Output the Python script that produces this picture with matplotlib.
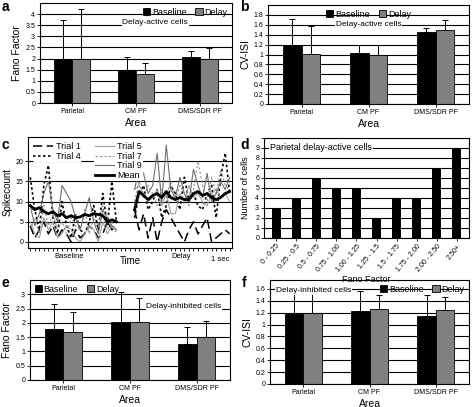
import numpy as np
import matplotlib.pyplot as plt

plt.rcParams['font.family'] = ['Liberation Sans', 'DejaVu Sans']

areas = ['Parietal', 'CM PF', 'DMS/SDR PF']

# panel a: fano factor, delay-active
a_base = [2.0, 1.5, 2.05]
a_base_err = [1.75, 0.58, 0.3]
a_delay = [2.0, 1.3, 2.0]
a_delay_err = [2.25, 0.5, 0.48]

# panel b: CV-ISI, delay-active
b_base = [1.2, 1.04, 1.46]
b_base_err = [0.52, 0.15, 0.08]
b_delay = [1.02, 0.99, 1.49]
b_delay_err = [0.55, 0.2, 0.21]

# panel d: histogram of parietal fano factors
d_bins = ['0 - 0.25', '0.25 - 0.5', '0.5 - 0.75', '0.75 - 1.00', '1.00 - 1.25', '1.25 - 1.5',
          '1.5 - 1.75', '1.75 - 2.00', '2.00 - 2.50', '2.50+']
d_counts = [3, 4, 6, 5, 5, 2, 4, 4, 7, 9]

# panel e: fano factor, delay-inhibited
e_base = [1.77, 2.03, 1.25]
e_base_err = [0.88, 1.05, 0.62]
e_delay = [1.67, 2.03, 1.5]
e_delay_err = [0.72, 0.85, 0.55]

# panel f: CV-ISI, delay-inhibited
f_base = [1.18, 1.22, 1.15]
f_base_err = [0.4, 0.35, 0.34]
f_delay = [1.2, 1.26, 1.24]
f_delay_err = [0.37, 0.23, 0.22]

# panel c: spike counts per bin (baseline bins, gap, delay bins)
nan = np.nan
trial1 = [4, 1, 3, 5, 2, 4, 1, 3, 2, 0, 3, 1, 2, 4, 3, 1, 2, 5, 3, 4, nan, nan, nan,
          8, 3, 7, 1, 6, 0, 5, 8, 6, 4, 2, 0, 3, 5, 2, 4, 6, 0, 1, 2, 3, 2]
trial4 = [16, 8, 3, 14, 19, 6, 2, 10, 4, 1, 7, 3, 2, 5, 9, 3, 12, 4, 15, 5, nan, nan, nan,
          6, 12, 14, 8, 10, 13, 6, 9, 14, 12, 8, 16, 10, 12, 9, 8, 12, 14, 6, 16, 22, 12]
trial5 = [5, 2, 1, 6, 3, 5, 1, 2, 4, 3, 1, 0, 2, 4, 3, 0, 5, 2, 4, 3, nan, nan, nan,
          13, 14, 12, 10, 11, 13, 9, 12, 7, 7, 12, 10, 14, 11, 12, 10, 9, 12, 13, 11, 12, 10]
trial7 = [3, 6, 2, 9, 4, 7, 3, 5, 2, 6, 4, 3, 8, 2, 6, 4, 9, 3, 5, 2, nan, nan, nan,
          10, 15, 11, 14, 12, 9, 13, 11, 15, 10, 14, 12, 9, 13, 20, 14, 10, 16, 12, 18, 14, 13]
trial9 = [9, 4, 7, 12, 15, 8, 5, 14, 12, 10, 6, 3, 7, 11, 5, 2, 8, 6, 4, 3, nan, nan, nan,
          13, 18, 17, 12, 14, 22, 10, 24, 13, 11, 16, 12, 10, 18, 14, 11, 17, 10, 12, 15, 13, 16]
mean = [9, 8, 8.5, 7.5, 7, 7.5, 6.5, 7, 6, 6.5, 6, 6.2, 6.8, 6.5, 7, 6.8, 6.5, 5, 5.5, 5, nan, nan, nan,
        8, 12.5, 11.5, 10.5, 11.5, 12, 11, 12.5, 11, 10.5, 11, 10.5, 10.5, 12, 12.5, 11.5, 12, 11, 10.5, 11, 12, 12.5]

W, H = 474, 407


def fig_px(ax_l, ax_t, ax_r, ax_b):
    return [ax_l / W, 1 - ax_b / H, (ax_r - ax_l) / W, (ax_b - ax_t) / H]


def letter(x, y, s):
    fig.text(x / W, 1 - y / H, s, fontsize=10, fontweight='bold', va='top')


def style(ax):
    ax.set_axisbelow(True)
    ax.yaxis.grid(True, color='black', linewidth=0.8)
    for s in ax.spines.values():
        s.set_linewidth(0.8)
    ax.tick_params(labelsize=5, length=2, width=0.6, pad=1.5)


def bar_panel(rect, base, berr, delay, derr, ylim, ytop, ystep, ylabel, note, note_xy, leg_loc):
    ax = fig.add_axes(fig_px(*rect))
    x = np.arange(len(areas))
    w = 0.28
    ek = dict(elinewidth=0.7, capsize=2, capthick=0.7)
    ax.bar(x - w / 2, base, w, yerr=[np.zeros(3), berr], color='black', edgecolor='black',
           linewidth=0.6, error_kw=ek, label='Baseline')
    ax.bar(x + w / 2, delay, w, yerr=[np.zeros(3), derr], color='#808080', edgecolor='black',
           linewidth=0.6, error_kw=ek, label='Delay')
    ax.set_xlim(-0.5, 2.5)
    ax.set_ylim(*ylim)
    ticks = np.arange(0, ytop + 1e-6, ystep)
    ax.set_yticks(ticks)
    ax.set_yticklabels(['%g' % round(v, 2) for v in ticks])
    ax.set_xticks(x)
    ax.set_xticklabels(areas)
    ax.set_xlabel('Area', fontsize=7.5, labelpad=2)
    ax.set_ylabel(ylabel, fontsize=7.5, labelpad=2)
    style(ax)
    ax.legend(loc=leg_loc, ncol=2, fontsize=6.5, frameon=False, handlelength=0.8,
              handletextpad=0.2, columnspacing=1.0, borderaxespad=0.1)
    ax.text(note_xy[0], note_xy[1], note, transform=ax.transAxes, fontsize=6,
            ha='center', va='center', bbox=dict(facecolor='white', edgecolor='none', pad=0.5))
    return ax


fig = plt.figure(figsize=(W / 100, H / 100), dpi=100)

bar_panel((40, 3, 232, 103), a_base, a_base_err, a_delay, a_delay_err, (0, 4.5), 4.0, 0.5,
          'Fano Factor', 'Delay-active cells', (0.6, 0.8), 'upper right')
letter(2, 0, 'a')
bar_panel((268, 5, 469, 104), b_base, b_base_err, b_delay, b_delay_err, (0, 2.0), 1.8, 0.2,
          'CV-ISI', 'Delay-active cells', (0.5, 0.8), 'upper center')
letter(240, 0, 'b')
bar_panel((30, 280, 230, 380), e_base, e_base_err, e_delay, e_delay_err, (0, 3.5), 3.0, 0.5,
          'Fano Factor', 'Delay-inhibited cells', (0.77, 0.73), 'upper left')
letter(2, 276, 'e')
bar_panel((270, 280, 469, 384), f_base, f_base_err, f_delay, f_delay_err, (0, 1.75), 1.6, 0.2,
          'CV-ISI', 'Delay-inhibited cells', (0.22, 0.9), 'upper right')
letter(242, 276, 'f')

# panel d
ax_d = fig.add_axes(fig_px(264, 138, 469, 238))
xd = np.arange(len(d_bins))
ax_d.bar(xd, d_counts, 0.45, color='black')
ax_d.set_xlim(-0.6, len(d_bins) - 0.4)
ax_d.set_ylim(0, 10)
ax_d.set_yticks(range(0, 11))
ax_d.set_yticklabels([str(v) for v in range(0, 10)] + [''])
ax_d.set_xticks(xd)
ax_d.set_xticklabels(d_bins, rotation=50, ha='right', rotation_mode='anchor', fontsize=4.5)
ax_d.set_xlabel('Fano Factor', fontsize=6.5, labelpad=1)
ax_d.set_ylabel('Number of cells', fontsize=6.5)
style(ax_d)
ax_d.text(0.03, 0.95, 'Parietal delay-active cells', transform=ax_d.transAxes, fontsize=6.5,
          va='top', bbox=dict(facecolor='white', edgecolor='none', pad=0.5))
letter(240, 138, 'd')

# panel c
ax_c = fig.add_axes(fig_px(28, 137, 232, 248))
t = np.arange(len(mean))
l1, = ax_c.plot(t, trial1, color='black', ls=(0, (6, 3)), lw=1.1, label='Trial 1')
l4, = ax_c.plot(t, trial4, color='black', ls=(0, (1.5, 1.5)), lw=1.2, label='Trial 4')
l5, = ax_c.plot(t, trial5, color='#a0a0a0', lw=0.8, label='Trial 5')
l7, = ax_c.plot(t, trial7, color='#909090', ls=(0, (2, 2)), lw=0.8, label='Trial 7')
l9, = ax_c.plot(t, trial9, color='#707070', lw=0.8, label='Trial 9')
lm, = ax_c.plot(t, mean, color='black', lw=2.0, label='Mean')
ax_c.set_ylim(-1.5, 26)
ax_c.set_xlim(-0.5, len(mean) - 0.5)
ax_c.set_yticks([0, 5, 10, 15, 20])
ax_c.set_xticks(t)
ax_c.set_xticklabels([])
style(ax_c)
leg_kw = dict(fontsize=6.5, frameon=True, facecolor='white', edgecolor='none', framealpha=1,
              handlelength=2.2, handletextpad=0.3, labelspacing=0.05, borderpad=0.1)
leg1 = ax_c.legend([l1, l4], ['Trial 1', 'Trial 4'], loc='upper left',
                   bbox_to_anchor=(0.0, 1.0), **leg_kw)
ax_c.add_artist(leg1)
ax_c.legend([l5, l7, l9, lm], ['Trial 5', 'Trial 7', 'Trial 9', 'Mean'], loc='upper left',
            bbox_to_anchor=(0.3, 1.0), **leg_kw)
ax_c.set_ylabel('Spikecount', fontsize=7, labelpad=2)
ax_c.set_xlabel('Time', fontsize=7, labelpad=2)
ax_c.text(0.2, -0.09, 'Baseline', transform=ax_c.transAxes, fontsize=5.5, ha='center')
ax_c.text(0.75, -0.09, 'Delay', transform=ax_c.transAxes, fontsize=5.5, ha='center')
ax_c.text(0.94, -0.12, '1 sec', transform=ax_c.transAxes, fontsize=5.5, ha='center')
letter(2, 138, 'c')

fig.savefig('out.png', dpi=100)
